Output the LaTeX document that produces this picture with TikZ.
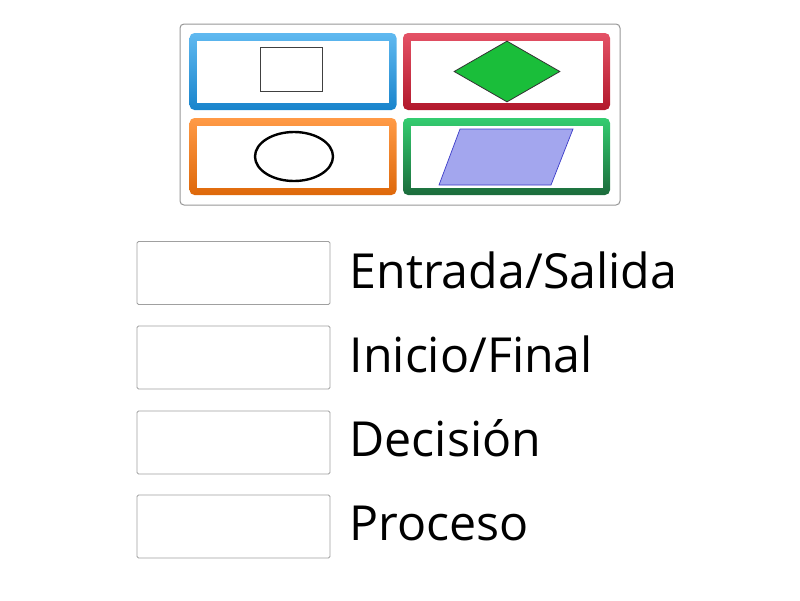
\documentclass[tikz,border=0pt]{standalone}
\usepackage{fontspec}
\setmainfont{Open Sans}
\usetikzlibrary{positioning,shapes.geometric}
\definecolor{framegray}{RGB}{150,150,150}
\definecolor{boxgray}{RGB}{160,160,160}
\definecolor{bluetop}{RGB}{96,185,240}
\definecolor{bluebot}{RGB}{24,132,204}
\definecolor{redtop}{RGB}{228,82,102}
\definecolor{redbot}{RGB}{178,24,44}
\definecolor{orangetop}{RGB}{255,154,70}
\definecolor{orangebot}{RGB}{222,104,10}
\definecolor{greentop}{RGB}{52,204,112}
\definecolor{greenbot}{RGB}{28,108,60}
\definecolor{diamondgreen}{RGB}{26,190,58}
\definecolor{parafill}{RGB}{163,166,238}
\definecolor{parastroke}{RGB}{60,60,200}
\tikzset{
  tile/.style={
    rectangle,
    rounded corners=5pt,
    minimum width=207pt,
    minimum height=77pt,
    inner sep=0pt
  },
  hole/.style={
    rectangle,
    fill=white,
    minimum width=192pt,
    minimum height=62pt,
    inner sep=0pt
  },
  answer/.style={
    draw=boxgray,
    fill=white,
    rectangle,
    rounded corners=1.5pt,
    line width=0.9pt,
    minimum width=193pt,
    minimum height=63pt,
    inner sep=0pt
  },
  label/.style={font=\fontsize{48.3}{58}\selectfont, text=black, inner sep=0pt}
}
\begin{document}
\begin{tikzpicture}[x=1pt,y=-1pt]
\useasboundingbox (0,0) rectangle (800,600);

% Panel
\node[draw=framegray, line width=1pt, rounded corners=4pt, minimum width=440pt,
  minimum height=181pt, inner sep=0pt] (panel) at (400,114.5) {};

% Tiles
\node[tile, top color=bluetop, bottom color=bluebot] (tblue) at (293,71.5) {};
\node[tile, top color=redtop, bottom color=redbot] (tred) at (506.5,71.5) {};
\node[tile, top color=orangetop, bottom color=orangebot] (torange) at (293,156.5) {};
\node[tile, top color=greentop, bottom color=greenbot] (tgreen) at (506.5,156.5) {};

\node[hole] (hblue) at ([yshift=-0.5pt]tblue) {};
\node[hole] (hred) at ([yshift=-0.5pt]tred) {};
\node[hole] (horange) at ([yshift=-0.5pt]torange) {};
\node[hole] (hgreen) at ([yshift=-0.5pt]tgreen) {};

% Shapes
\node[draw=black!75, line width=0.6pt, minimum width=62pt, minimum height=44pt,
  inner sep=0pt] (proc) at (291,69) {};
\node[diamond, draw=black!80, fill=diamondgreen, line width=0.8pt, inner sep=0pt,
  minimum width=106pt, minimum height=61pt] (deci) at (507,71.5) {};
\node[ellipse, draw=black, line width=2.4pt, inner sep=0pt,
  minimum width=78pt, minimum height=49pt] (term) at (294,156.5) {};

\coordinate (pa) at (439,185);
\coordinate (pb) at (551,185);
\coordinate (pc) at (573,129);
\coordinate (pd) at (460,129);
\draw[draw=parastroke, fill=parafill, line width=0.7pt] (pa) -- (pb) -- (pc) -- (pd) -- cycle;

% Answers
\node[answer] (box1) at (233.5,273) {};
\node[answer] (box2) at (233.5,357.5) {};
\node[answer] (box3) at (233.5,442.5) {};
\node[answer] (box4) at (233.5,526.5) {};

% Labels
\node[label, anchor=base west] (lbl1) at ([xshift=19pt, yshift=-15pt]box1.east) {Entrada/Salida};
\node[label, anchor=base west] (lbl2) at ([xshift=19pt, yshift=-15pt]box2.east) {Inicio/Final};
\node[label, anchor=base west] (lbl3) at ([xshift=19pt, yshift=-14pt]box3.east) {Decisión};
\node[label, anchor=base west] (lbl4) at ([xshift=19pt, yshift=-14pt]box4.east) {Proceso};

\end{tikzpicture}
\end{document}
